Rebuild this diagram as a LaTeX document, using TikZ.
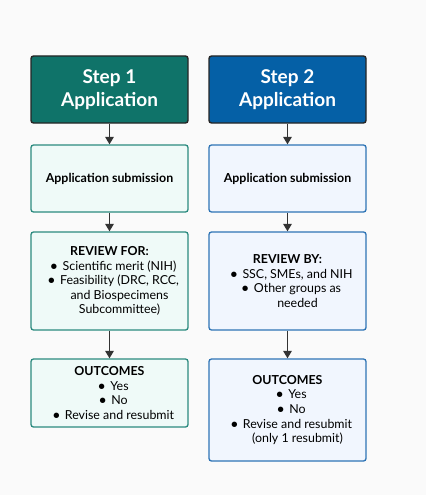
\documentclass[tikz,border=0pt]{standalone}
\usepackage{fontspec}
\setmainfont{Lato}
\usetikzlibrary{arrows.meta}
\definecolor{bgc}{HTML}{FAFAFA}
\definecolor{tealH}{HTML}{0F7369}
\definecolor{blueH}{HTML}{0560A6}
\definecolor{tealF}{HTML}{EFFAF8}
\definecolor{tealB}{HTML}{2B8A7F}
\definecolor{blueF}{HTML}{F1F6FE}
\definecolor{blueB}{HTML}{2E74B5}
\definecolor{arr}{HTML}{333333}
\newcommand{\bitem}[1]{\hspace*{20pt}\llap{\textbf{\textbullet}\hspace{5pt}}#1}
\newcommand{\bcont}[1]{\hspace*{20pt}#1}
\begin{document}
\begin{tikzpicture}[x=1pt,y=-1pt,
  head/.style={draw=black!85, line width=1.4pt, rounded corners=2.5pt, minimum width=157pt, minimum height=67pt, text=white, font=\fontsize{19}{23}\selectfont\bfseries, align=center, inner sep=0pt},
  tbox/.style={draw=tealB, fill=tealF, line width=1.3pt, rounded corners=2.5pt, minimum width=157pt, inner sep=0pt},
  bbox/.style={draw=blueB, fill=blueF, line width=1.3pt, rounded corners=2.5pt, minimum width=157pt, inner sep=0pt},
  txt/.style={font=\fontsize{12.4}{14.6}\selectfont, align=center, inner sep=0pt, text=black},
  conn/.style={draw=arr, line width=1.5pt, -{Triangle[length=7.5pt,width=8.5pt]}}]
\fill[bgc] (0,0) rectangle (426,495);
\useasboundingbox (0,0) rectangle (426,495);
% left column
\node[head, fill=tealH] (l1) at (109.5,89.5) {Step 1\\Application};
\node[tbox, minimum height=67pt] (l2) at (109.5,178.5) {};
\node[txt, font=\fontsize{12.4}{14.6}\selectfont\bfseries] (l2t) at (l2.center) {Application submission};
\node[tbox, minimum height=98pt] (l3) at (109.5,281) {};
\node[txt] (l3t) at (l3.center) {\textbf{REVIEW FOR:}\\ \bitem{Scientific merit (NIH)}\\ \bitem{Feasibility (DRC, RCC,}\\ \bcont{and Biospecimens}\\ \bcont{Subcommittee)}};
\node[tbox, minimum height=68pt] (l4) at (109.5,393) {};
\node[txt] (l4t) at (l4.center) {\textbf{OUTCOMES}\\ \bitem{Yes}\\ \bitem{No}\\ \bitem{Revise and resubmit}};
% right column
\node[head, fill=blueH] (r1) at (287.5,89.5) {Step 2\\Application};
\node[bbox, minimum height=67pt] (r2) at (287.5,178.5) {};
\node[txt, font=\fontsize{12.4}{14.6}\selectfont\bfseries] (r2t) at (r2.center) {Application submission};
\node[bbox, minimum height=98pt] (r3) at (287.5,281) {};
\node[txt] (r3t) at (r3.center) {\textbf{REVIEW BY:}\\ \bitem{SSC, SMEs, and NIH}\\ \bitem{Other groups as}\\ \bcont{needed}};
\node[bbox, minimum height=102pt] (r4) at (287.5,410) {};
\node[txt] (r4t) at (r4.center) {\textbf{OUTCOMES}\\ \bitem{Yes}\\ \bitem{No}\\ \bitem{Revise and resubmit}\\ \bcont{(only 1 resubmit)}};
% connectors
\draw[conn] (l1) -- (l2);
\draw[conn] (l2) -- (l3);
\draw[conn] (l3) -- (l4);
\draw[conn] (r1) -- (r2);
\draw[conn] (r2) -- (r3);
\draw[conn] (r3) -- (r4);
\end{tikzpicture}
\end{document}
